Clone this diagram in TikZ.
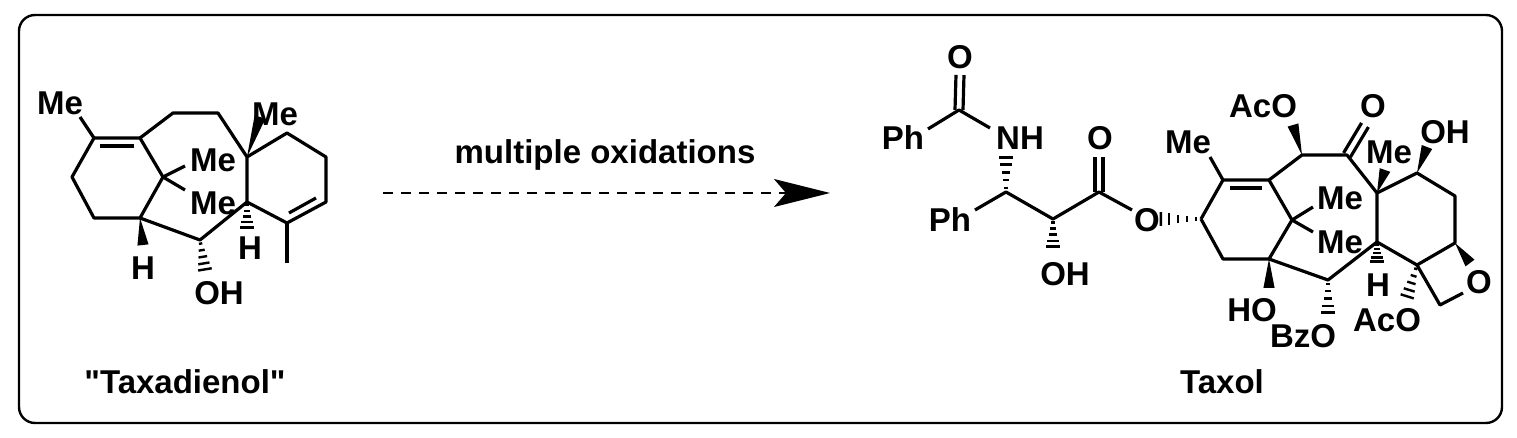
\documentclass[tikz,border=0pt]{standalone}
\usepackage{fontspec}
\setmainfont{Liberation Sans}
\newfontfamily\qfont{Liberation Sans}[Ligatures=ResetAll]
\usetikzlibrary{calc,arrows.meta}
\newcommand{\mywedge}[2]{\fill ($(#1)$) -- ($(#2)!2.8pt!90:(#1)$) -- ($(#2)!2.8pt!-90:(#1)$) -- cycle;}
\newcommand{\myhash}[2]{\foreach \t in {0.12,0.34,0.56,0.78,0.98}{\coordinate (hp) at ($(#1)!\t!(#2)$); \draw[line width=1.2pt] ($(hp)!{\t*3pt+0.5pt}!90:(#2)$) -- ($(hp)!{\t*3pt+0.5pt}!-90:(#2)$);}}
\newcommand{\mydbl}[2]{\draw ($(#1)!2pt!90:(#2)$) -- ($(#2)!2pt!-90:(#1)$); \draw ($(#1)!2pt!-90:(#2)$) -- ($(#2)!2pt!90:(#1)$);}
\begin{document}
\begin{tikzpicture}[x=0.5pt,y=-0.5pt,line width=1.6pt,line join=round,
  lab/.style={inner sep=0pt,font=\fontsize{16.5}{19}\selectfont\bfseries}]
\useasboundingbox (0,0) rectangle (1517,438);
\draw[line width=1.2pt,rounded corners=8pt] (19,15) rectangle (1502,423);
% ---------- Taxadienol ----------
\foreach \n/\x/\y in {A1/94/138,A2/140/138,A3/72/177,A4/94/218,A5/140/218,A6/163/177,
  C1/173/113,C2/218/113,B1/247/157,B3/287/133,B4/326/157,B5/326/202,B6/287/223,B2/247/202,
  C3/200/240,MeA/80/117,MeB/287/263,gm1/185/166,gm2/185/190,wB1/260/117,hB2/247/228,
  hC3/205/270,wA5/143/245}{\coordinate (\n) at (\x,\y);}
\draw (A1)--(A3)--(A4)--(A5)--(A6)--(A2)--(A1);
\draw (100,146)--(134,146);
\draw (MeA)--(A1);
\draw (A2)--(C1)--(C2)--(B1)--(B3)--(B4)--(B5)--(B6)--(B2)--(B1);
\draw (316,198)--(289,213);
\draw (B6)--(MeB);
\draw (B2)--(C3)--(A5);
\draw (A6)--(gm1); \draw (A6)--(gm2);
\mywedge{B1}{wB1}
\myhash{B2}{hB2}
\myhash{C3}{hC3}
\mywedge{A5}{wA5}
\node[lab] (me1) at (60,103) {Me};
\node[lab] (me2) at (275,114) {Me};
\node[lab] (me3) at (213,160) {Me};
\node[lab] (me4) at (213,203) {Me};
\node[lab] (h1) at (250,248) {H};
\node[lab] (oh1) at (219,293) {OH};
\node[lab] (h2) at (143,268) {H};
\node[lab] (t1) at (185,382) {\qfont "Taxadienol"};
% ---------- arrow ----------
\coordinate (ar1) at (383,193);
\coordinate (ar2) at (830,193);
\draw[line width=1pt,dash pattern=on 5pt off 4pt,-{Stealth[length=28pt,width=14pt,inset=6pt]}] (ar1)--(ar2);
\node[lab] (mo) at (605,155) {multiple oxidations};
% ---------- Taxol side chain ----------
\foreach \n/\x/\y in {Ca/959/110,Oa/960/75,PhA/928/129,Na/990/128,Nb/1006/157,Cb/1006/192,PhB/975/210,
  Cc/1053/219,hCc/1053/247,Cd/1099/192,Od/1099/157,Oe/1132/210,Oh/1160/219}{\coordinate (\n) at (\x,\y);}
\mydbl{Ca}{Oa}
\draw (PhA)--(Ca)--(Na);
\myhash{Cb}{Nb}
\draw (PhB)--(Cb)--(Cc)--(Cd)--(Oe);
\myhash{Cc}{hCc}
\mydbl{Cd}{Od}
\node[lab] (o1) at (960,57) {O};
\node[lab] (ph1) at (903,138) {Ph};
\node[lab] (nh) at (1020,138) {NH};
\node[lab] (ph2) at (950,220) {Ph};
\node[lab] (oh2) at (1065,274) {OH};
\node[lab] (o2) at (1100,138) {O};
\node[lab] (o3) at (1147,220) {O};
% ---------- Taxol core ----------
\foreach \n/\x/\y in {T1/1201/219,T2/1223/180,T3/1269/180,T4/1292/220,T5/1269/259,T6/1223/259,
  T7/1302/155,T8/1347/155,T9/1377/193,T10/1417/173,T11/1455/196,T12/1455/243,T13/1417/265,
  T14/1377/242,T15/1328/280,X1/1440/305,X2/1463/293,
  meT/1210/157,g1/1313/207,g2/1313/232,wT5/1269/288,wT7/1293/125,oT8/1365/125,wT9/1385/170,
  wT10/1427/147,wT12/1470/263,hT14/1377/262,hT13/1407/297,hT15/1328/313}{\coordinate (\n) at (\x,\y);}
\draw (T1)--(T2)--(T3)--(T4)--(T5)--(T6)--(T1);
\draw (1230,188)--(1262,188);
\draw (T2)--(meT);
\draw (T4)--(g1); \draw (T4)--(g2);
\draw (T3)--(T7)--(T8)--(T9)--(T10)--(T11)--(T12)--(T13)--(T14)--(T9);
\draw (T14)--(T15)--(T5);
\draw (T13)--(X1)--(X2);
\mydbl{T8}{oT8}
\myhash{T1}{Oh}
\mywedge{T5}{wT5}
\mywedge{T7}{wT7}
\mywedge{T9}{wT9}
\mywedge{T10}{wT10}
\mywedge{T12}{wT12}
\myhash{T14}{hT14}
\myhash{T13}{hT13}
\myhash{T15}{hT15}
\node[lab] (meL) at (1188,142) {Me};
\node[lab] (me5) at (1340,198) {Me};
\node[lab] (me6) at (1340,242) {Me};
\node[lab] (ho) at (1252,310) {HO};
\node[lab] (aco1) at (1263,106) {AcO};
\node[lab] (o4) at (1373,106) {O};
\node[lab] (me7) at (1389,152) {Me};
\node[lab] (oh3) at (1445,132) {OH};
\node[lab] (o5) at (1479,282) {O};
\node[lab] (h3) at (1378,285) {H};
\node[lab] (aco2) at (1387,320) {AcO};
\node[lab] (bzo) at (1303,336) {BzO};
\node[lab] (t2) at (1222,382) {Taxol};
\end{tikzpicture}
\end{document}
